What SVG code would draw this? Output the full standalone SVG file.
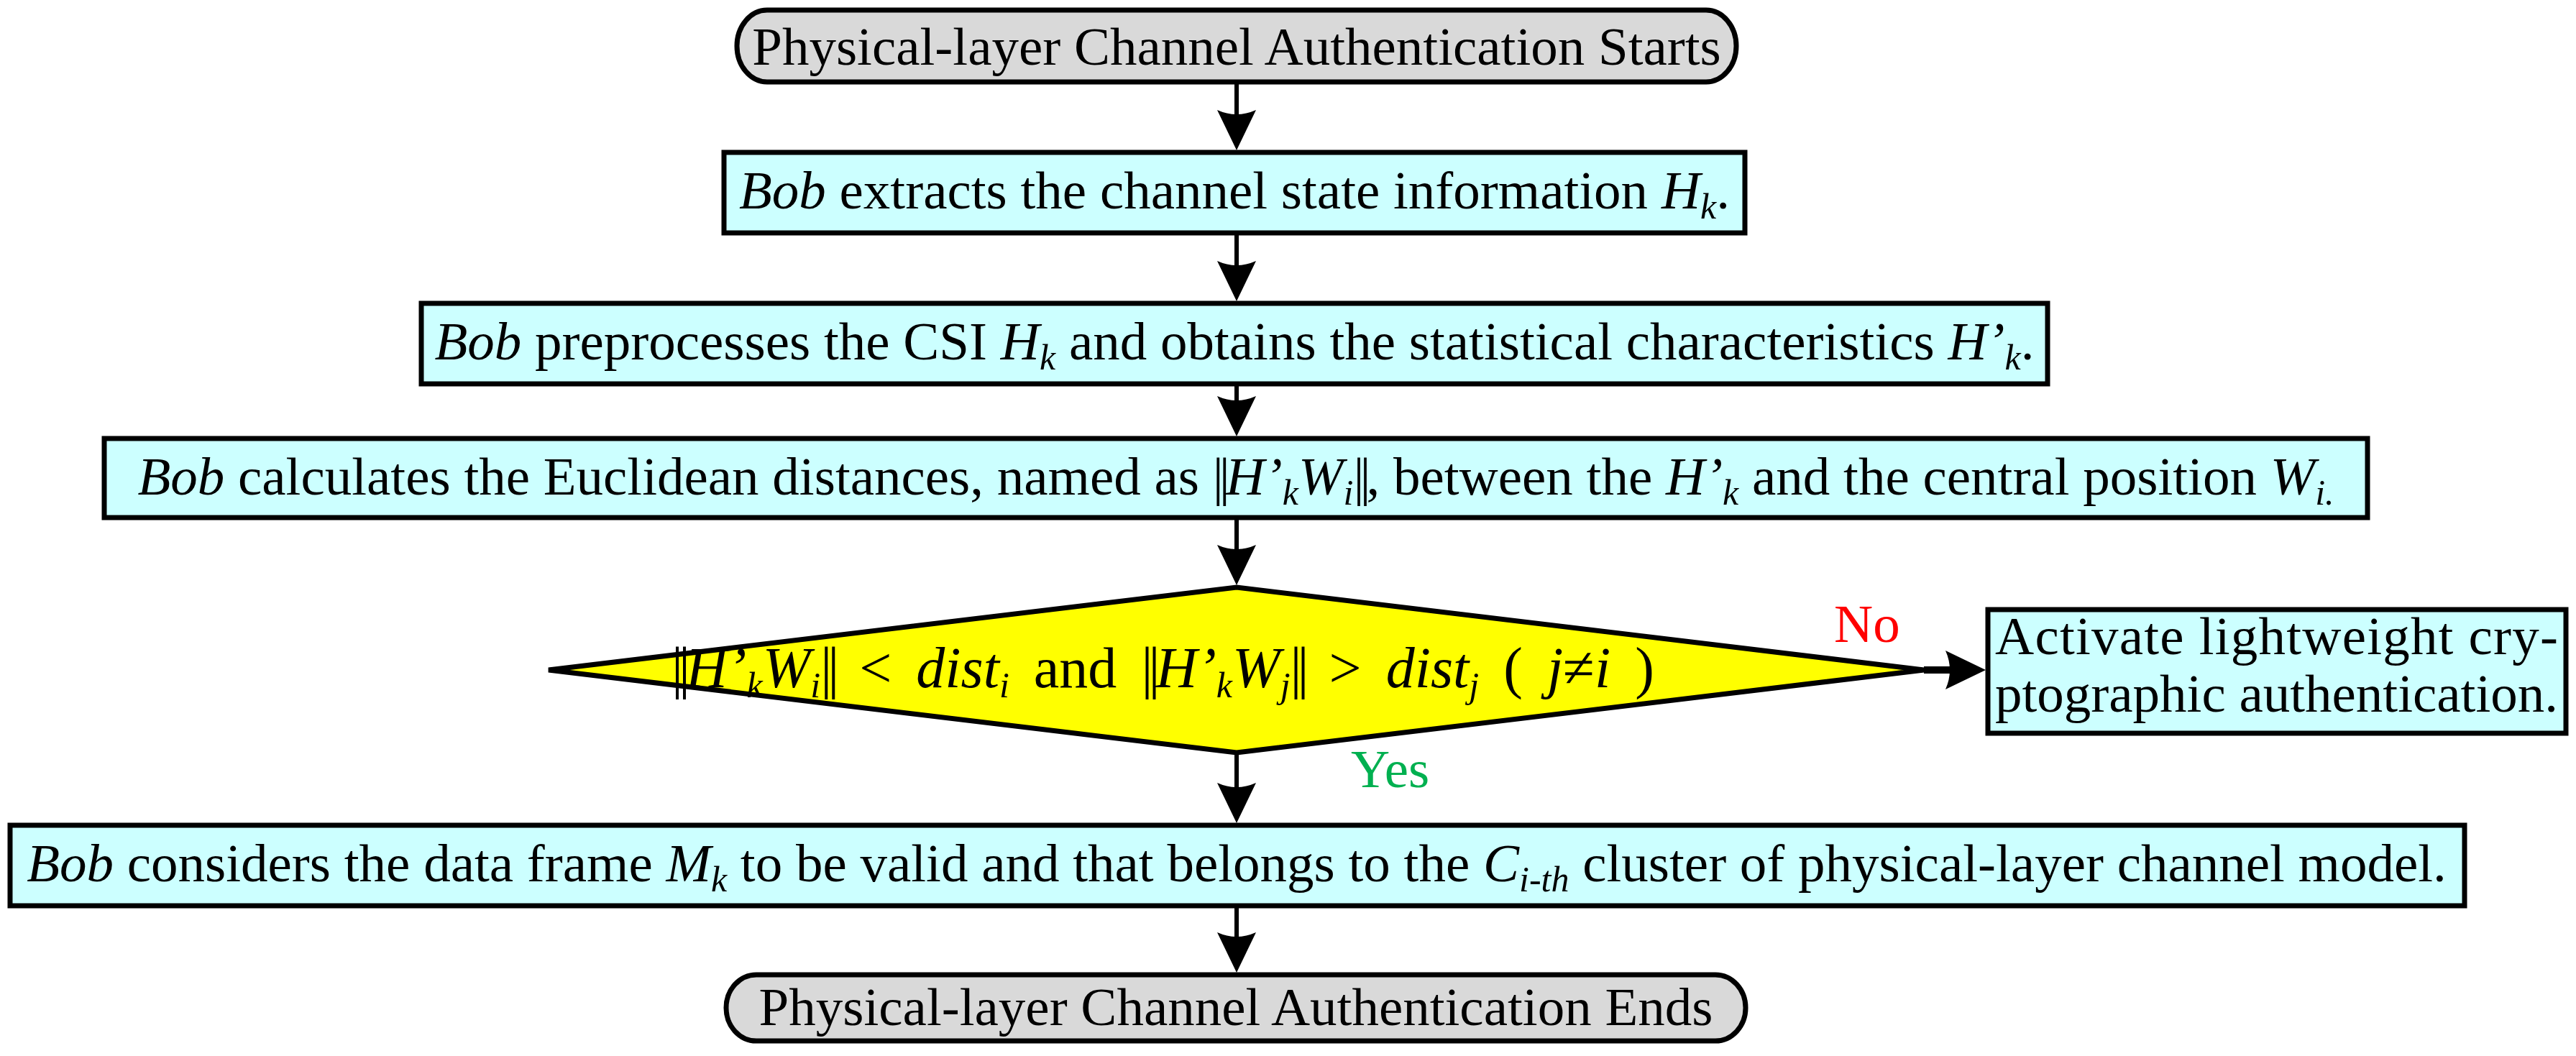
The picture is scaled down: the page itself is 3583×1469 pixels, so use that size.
<svg xmlns="http://www.w3.org/2000/svg" xmlns:xlink="http://www.w3.org/1999/xlink" width="3583" height="1469" viewBox="0 0 3583 1469">
<style>
.t{font-family:"Liberation Serif","Times New Roman",serif;font-size:75px;fill:#000}
.i{font-style:italic}
.s{font-size:50px}
.bar{letter-spacing:-6px}
.box{fill:#CCFFFF;stroke:#000;stroke-width:7}
.term{fill:#D9D9D9;stroke:#000;stroke-width:7}
.dia{fill:#FFFF00;stroke:#000;stroke-width:7;stroke-linejoin:miter}
.ln{stroke:#000;stroke-width:6;fill:none}
.lnb{stroke:#000;stroke-width:10;fill:none}
</style>
<defs>
<path id="ah" d="M0,0 L-27,-56 Q0,-44 27,-56 Z" fill="#000"/>
</defs>
<g id="start">
<rect class="term" x="1025" y="14" width="1390" height="100" rx="42" ry="50"/>
<text class="t" x="1720" y="90" text-anchor="middle">Physical-layer Channel Authentication Starts</text>
</g>
<g id="step1">
<rect class="box" x="1007" y="212" width="1420" height="112"/>
<text class="t" x="1717" y="290" text-anchor="middle"><tspan class="i">Bob</tspan> extracts the channel state information <tspan class="i">H</tspan><tspan class="i s" dy="14">k</tspan><tspan dy="-14">.</tspan></text>
</g>
<g id="step2">
<rect class="box" x="586" y="422" width="2262" height="112"/>
<text class="t" x="1717" y="500" text-anchor="middle"><tspan class="i">Bob</tspan> preprocesses the CSI <tspan class="i">H</tspan><tspan class="i s" dy="14">k</tspan><tspan dy="-14"> and obtains the statistical characteristics </tspan><tspan class="i">H’</tspan><tspan class="i s" dy="14">k</tspan><tspan dy="-14">.</tspan></text>
</g>
<g id="step3">
<rect class="box" x="145" y="610" width="3148" height="110"/>
<text class="t" x="1719" y="688" text-anchor="middle"><tspan class="i">Bob</tspan> calculates the Euclidean distances, named as <tspan class="bar">||</tspan><tspan class="i">H’</tspan><tspan class="i s" dy="14">k</tspan><tspan class="i" dy="-14">W</tspan><tspan class="i s" dy="14">i</tspan><tspan dy="-14" class="bar">||</tspan>, between the <tspan class="i">H’</tspan><tspan class="i s" dy="14">k</tspan><tspan dy="-14"> and the central position </tspan><tspan class="i">W</tspan><tspan class="i s" dy="14">i.</tspan></text>
</g>
<g id="decision">
<polygon class="dia" points="763,932 1720,817 2676,932 1720,1047"/>
<text class="t" x="934" y="956" style="font-size:80px;word-spacing:14px"><tspan class="bar">||</tspan><tspan class="i">H’</tspan><tspan class="i s" dy="14">k</tspan><tspan class="i" dy="-14">W</tspan><tspan class="i s" dy="14">i</tspan><tspan dy="-14" class="bar">||</tspan> &lt; <tspan class="i">dist</tspan><tspan class="i s" dy="14">i</tspan><tspan dy="-14"> and </tspan><tspan class="bar">||</tspan><tspan class="i">H’</tspan><tspan class="i s" dy="14">k</tspan><tspan class="i" dy="-14">W</tspan><tspan class="i s" dy="14">j</tspan><tspan dy="-14" class="bar">||</tspan> &gt; <tspan class="i">dist</tspan><tspan class="i s" dy="14">j</tspan><tspan dy="-14"> ( </tspan><tspan class="i">j</tspan>≠<tspan class="i">i</tspan> )</text>
</g>
<g id="crypto">
<rect class="box" x="2765" y="848" width="804" height="172"/>
<text class="t" x="2775" y="910" textLength="783" lengthAdjust="spacing">Activate lightweight cry-</text>
<text class="t" x="2775" y="990" textLength="783" lengthAdjust="spacing">ptographic authentication.</text>
</g>
<g id="step4">
<rect class="box" x="14" y="1148" width="3414" height="112"/>
<text class="t" x="1720" y="1226" text-anchor="middle"><tspan class="i">Bob</tspan> considers the data frame <tspan class="i">M</tspan><tspan class="i s" dy="14">k</tspan><tspan dy="-14"> to be valid and that belongs to the </tspan><tspan class="i">C</tspan><tspan class="i s" dy="14">i-th</tspan><tspan dy="-14"> cluster of physical-layer channel model.</tspan></text>
</g>
<g id="end">
<rect class="term" x="1010" y="1356" width="1418" height="92" rx="42" ry="46"/>
<text class="t" x="1719" y="1426" text-anchor="middle">Physical-layer Channel Authentication Ends</text>
</g>
<g id="connectors">
<line class="ln" x1="1720" y1="114" x2="1720" y2="170"/>
<use xlink:href="#ah" transform="translate(1720,209)"/>
<line class="ln" x1="1720" y1="324" x2="1720" y2="380"/>
<use xlink:href="#ah" transform="translate(1720,419)"/>
<line class="ln" x1="1720" y1="534" x2="1720" y2="568"/>
<use xlink:href="#ah" transform="translate(1720,607)"/>
<line class="ln" x1="1720" y1="720" x2="1720" y2="775"/>
<use xlink:href="#ah" transform="translate(1720,814)"/>
<line class="ln" x1="1720" y1="1047" x2="1720" y2="1106"/>
<use xlink:href="#ah" transform="translate(1720,1145)"/>
<line class="ln" x1="1720" y1="1260" x2="1720" y2="1314"/>
<use xlink:href="#ah" transform="translate(1720,1353)"/>
<line class="lnb" x1="2676" y1="932" x2="2722" y2="932"/>
<use xlink:href="#ah" transform="translate(2762,932) rotate(-90)"/>
<text class="t" x="2551" y="893" style="fill:#FF0000">No</text>
<text class="t" x="1879" y="1095" style="fill:#00B050">Yes</text>
</g>
</svg>
